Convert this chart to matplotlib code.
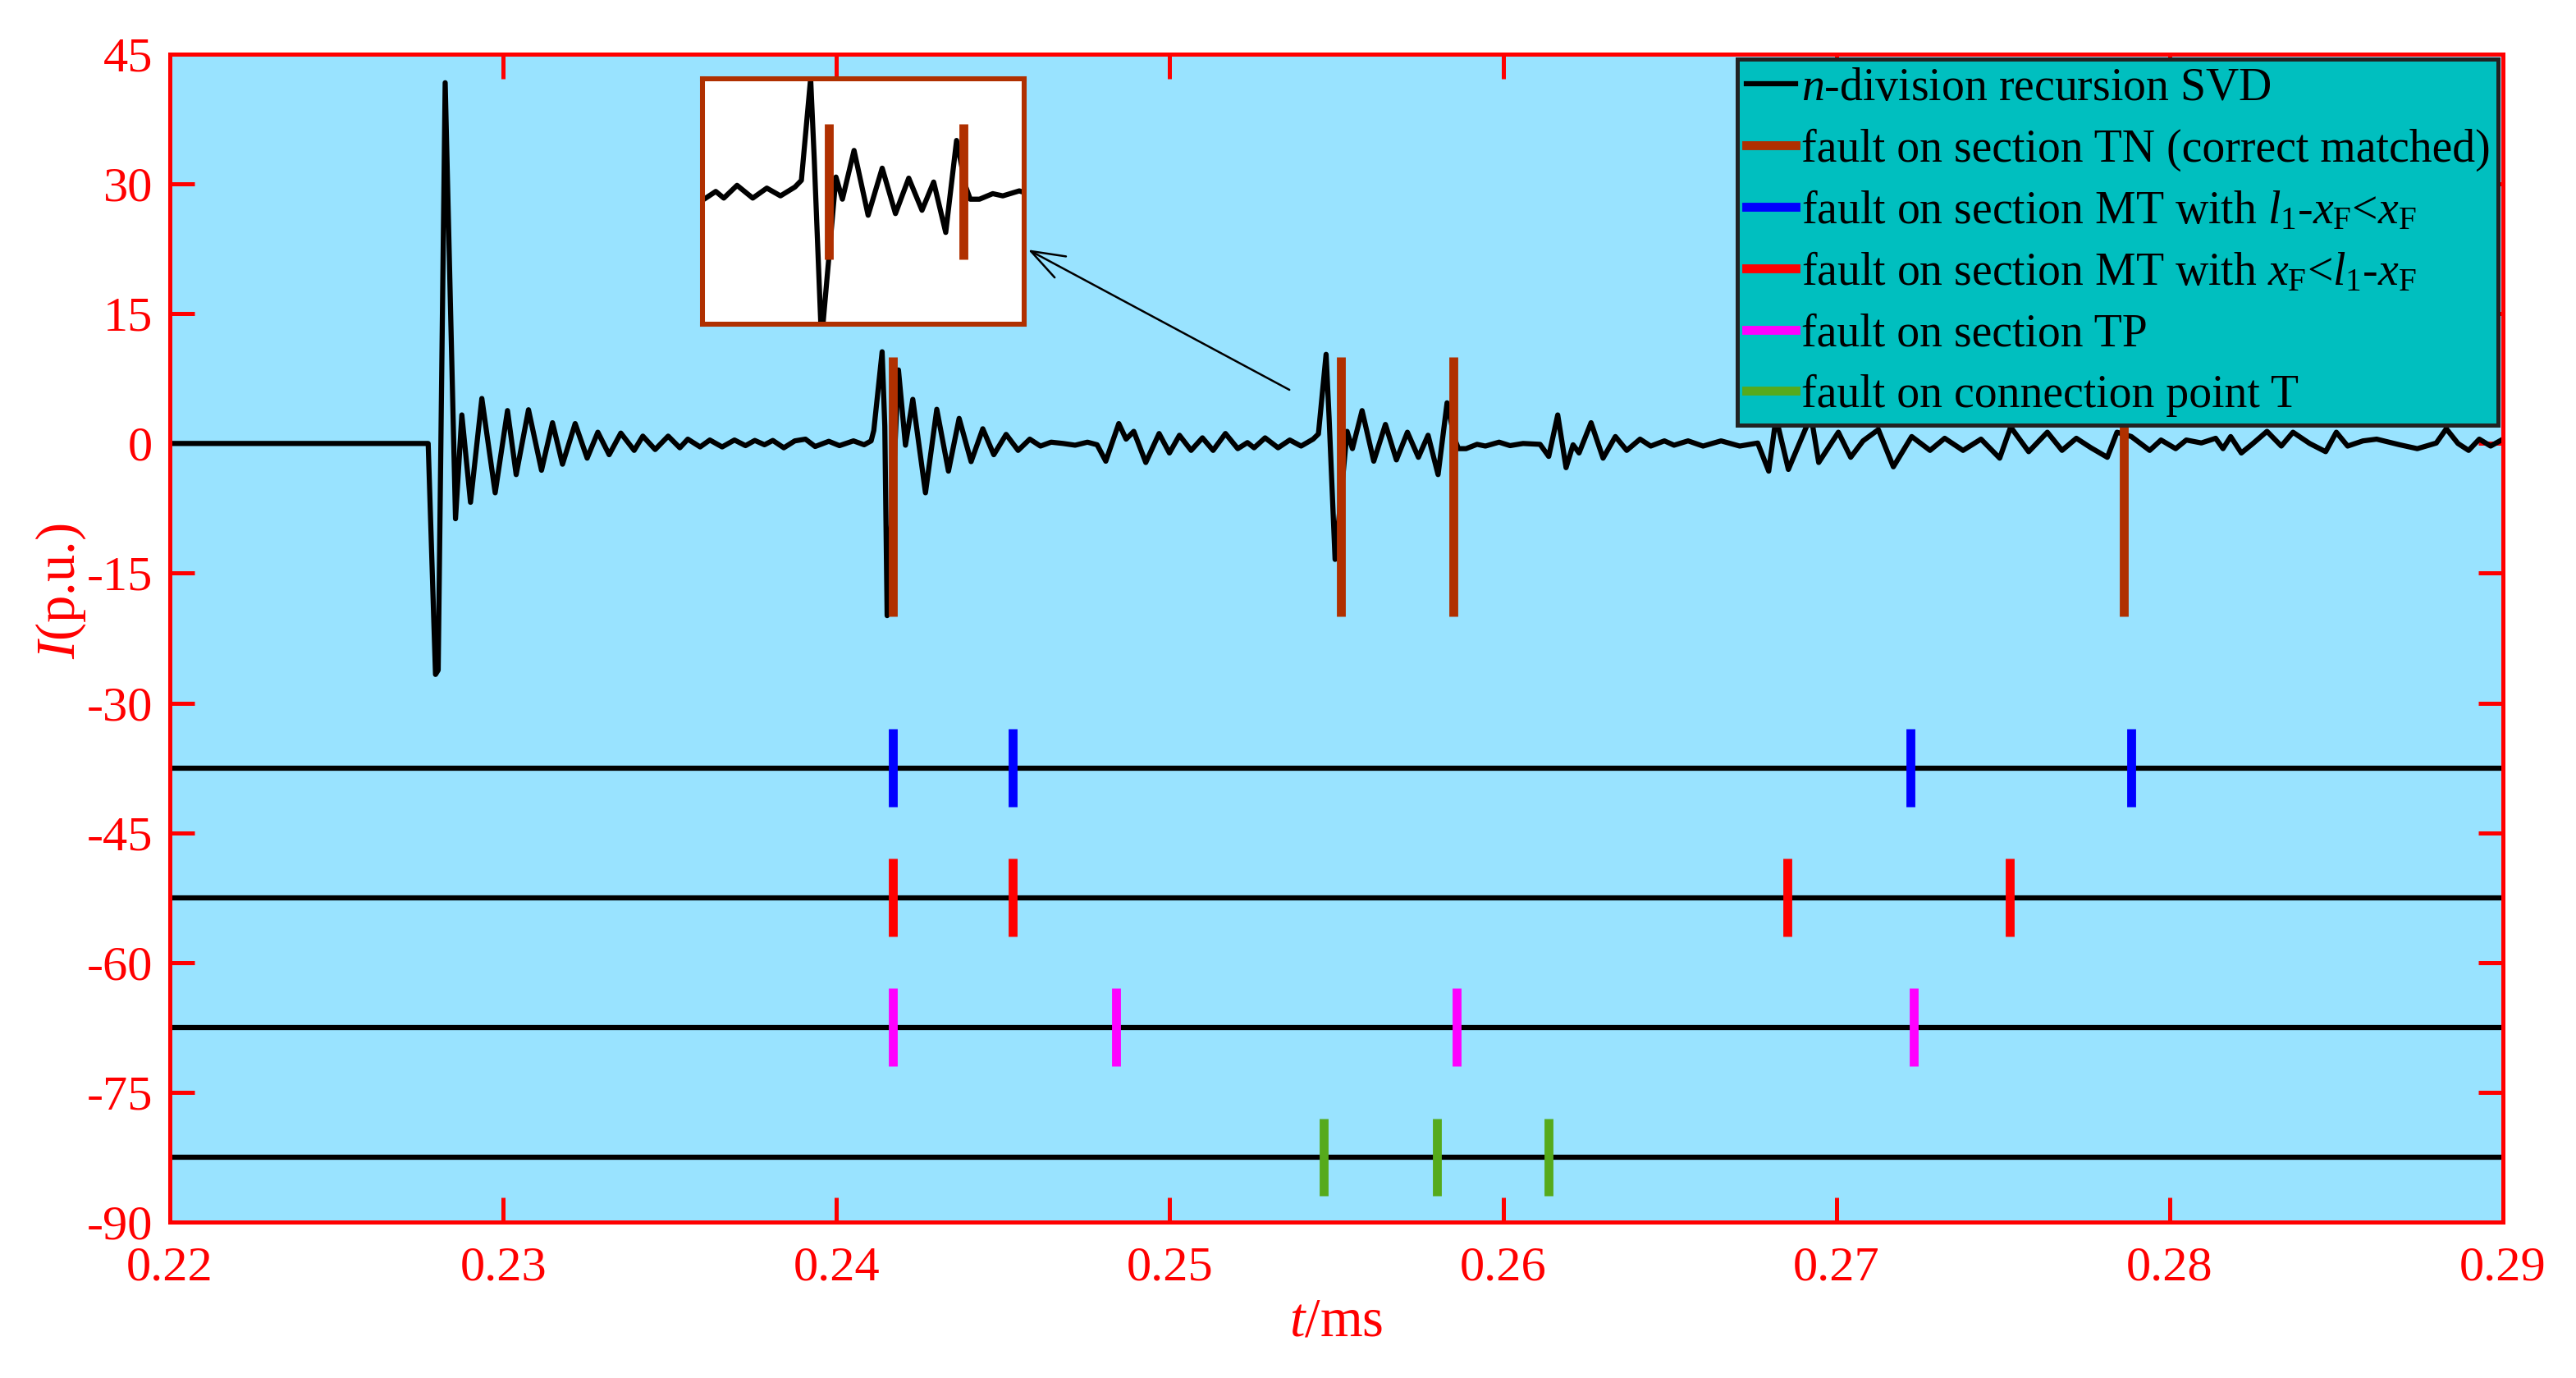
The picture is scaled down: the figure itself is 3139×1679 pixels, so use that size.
import matplotlib
matplotlib.use('Agg')
import matplotlib.pyplot as plt
from matplotlib.lines import Line2D

plt.rcParams['font.family'] = ['Liberation Serif', 'DejaVu Serif']
plt.rcParams['mathtext.fontset'] = 'custom'
plt.rcParams['mathtext.rm'] = 'Liberation Serif'
plt.rcParams['mathtext.it'] = 'Liberation Serif:italic'
plt.rcParams['mathtext.bf'] = 'Liberation Serif:bold'
plt.rcParams['axes.unicode_minus'] = False

# ---------------- data ----------------
t_ms = [0.22000, 0.22775, 0.22797, 0.22805, 0.22826, 0.22857, 0.22876, 0.22902, 0.22936, 0.22976,
        0.23013, 0.23039, 0.23076, 0.23115, 0.23148, 0.23178, 0.23216, 0.23252, 0.23284, 0.23318,
        0.23353, 0.23393, 0.23419, 0.23456, 0.23495, 0.23530, 0.23554, 0.23591, 0.23620, 0.23657,
        0.23694, 0.23727, 0.23755, 0.23784, 0.23809, 0.23842, 0.23875, 0.23907, 0.23936,
        0.23977, 0.24009, 0.24051, 0.24083, 0.24104, 0.24112, 0.24137, 0.24145, 0.24152, 0.24186,
        0.24207, 0.24229, 0.24267, 0.24301, 0.24336, 0.24368, 0.24404, 0.24439, 0.24472, 0.24509,
        0.24545, 0.24580, 0.24612, 0.24644, 0.24680, 0.24716, 0.24753, 0.24782, 0.24808, 0.24847,
        0.24869, 0.24892, 0.24928, 0.24968, 0.24999, 0.25029, 0.25064, 0.25098, 0.25130, 0.25167,
        0.25204, 0.25233, 0.25253, 0.25286, 0.25325, 0.25360, 0.25394, 0.25430, 0.25446, 0.25469,
        0.25478, 0.25496, 0.25532, 0.25548, 0.25577, 0.25612, 0.25647, 0.25680, 0.25713, 0.25746,
        0.25775, 0.25805, 0.25832, 0.25855, 0.25866, 0.25889, 0.25922, 0.25947, 0.25988, 0.26021,
        0.26060, 0.26111, 0.26137, 0.26164, 0.26189, 0.26210, 0.26228, 0.26264, 0.26300, 0.26337,
        0.26371, 0.26411, 0.26443, 0.26484, 0.26513, 0.26555, 0.26600, 0.26654, 0.26710, 0.26764,
        0.26797, 0.26819, 0.26856, 0.26924, 0.26947, 0.27006, 0.27043, 0.27080, 0.27126, 0.27171,
        0.27226, 0.27281, 0.27325, 0.27380, 0.27434, 0.27490, 0.27523, 0.27577, 0.27633, 0.27677,
        0.27720, 0.27764, 0.27813, 0.27842, 0.27885, 0.27940, 0.27974, 0.28018, 0.28050, 0.28095,
        0.28138, 0.28160, 0.28183, 0.28215, 0.28250, 0.28292, 0.28335, 0.28370, 0.28420, 0.28468,
        0.28500, 0.28534, 0.28580, 0.28621, 0.28690, 0.28743, 0.28800, 0.28830, 0.28865, 0.28897,
        0.28929, 0.28963, 0.29000]
I_pu = [0.0, 0.0, -26.7, -26.2, 41.7, -8.7, 3.3, -6.8, 5.2, -5.7,
        3.8, -3.6, 3.9, -3.1, 2.4, -2.4, 2.3, -1.7, 1.3, -1.3,
        1.2, -0.8, 0.85, -0.7, 0.85, -0.5, 0.5, -0.4, 0.4, -0.4,
        0.4, -0.25, 0.35, -0.15, 0.35, -0.5, 0.3, 0.5, -0.35,
        0.25, -0.25, 0.3, -0.15, 0.3, 1.5, 10.6, 2.0, -19.9, 8.5,
        -0.2, 5.1, -5.7, 3.95, -3.2, 2.9, -2.1, 1.7, -1.3, 1.05,
        -0.8, 0.5, -0.3, 0.15, 0.0, -0.2, 0.15, -0.15, -2.05, 2.3,
        0.5, 1.4, -2.2, 1.15, -1.1, 0.95, -0.8, 0.65, -0.8, 1.15,
        -0.6, 0.1, -0.5, 0.65, -0.5, 0.4, -0.3, 0.5, 1.1, 10.3,
        3.0, -13.4, 1.4, -0.6, 3.8, -2.05, 2.2, -1.9, 1.3, -1.6,
        0.95, -3.6, 4.7, 0.5, -0.6, -0.6, -0.1, -0.3, 0.15, -0.25,
        0.0, -0.1, -1.5, 3.3, -2.8, -0.15, -1.1, 2.4, -1.7, 0.8,
        -0.8, 0.5, -0.3, 0.3, -0.2, 0.3, -0.3, 0.3, -0.3, 0.05,
        -3.2, 3.0, -3.0, 3.2, -2.2, 1.3, -1.6, 0.3, 1.6, -2.7,
        0.8, -0.8, 0.6, -0.8, 0.5, -1.7, 1.9, -0.95, 1.3, -0.8,
        0.6, -0.5, -1.6, 1.3, 0.8, -0.8, 0.4, -0.6, 0.4, 0.06,
        0.6, -0.6, 0.8, -1.1, 0.0, 1.4, -0.3, 1.3, 0.0, -0.95,
        1.3, -0.3, 0.3, 0.5, -0.15, -0.6, 0.05, 1.7, 0.0, -0.8,
        0.5, -0.3, 0.5]

tn_times = [0.24168, 0.25514, 0.25850, 0.27863]          # fault on section TN
mt1_times = [0.24168, 0.24528, 0.27223, 0.27884]         # MT with l1-xF<xF
mt2_times = [0.24168, 0.24528, 0.26853, 0.27519]         # MT with xF<l1-xF
tp_times = [0.24168, 0.24838, 0.25860, 0.27233]          # fault on section TP
t_point_times = [0.25461, 0.25801, 0.26137]              # connection point T

tn_range = (-20.0, 10.0)
row_levels = [-37.5, -52.5, -67.5, -82.5]
row_half = 4.5

inset_xlim = (0.2520, 0.2600)
inset_ylim = (-11.9, 10.3)
inset_bar_range = (-6.0, 6.2)
inset_box = (0.23598, 13.76, 0.00965, 28.44)  # x, y, w, h in data units
arrow_tail = (0.25359, 6.2)
arrow_head = (0.24575, 22.4)

labels = ['$n$-division recursion SVD',
          'fault on section TN (correct matched)',
          'fault on section MT with $l_1$-$x_\\mathrm{F}$<$x_\\mathrm{F}$',
          'fault on section MT with $x_\\mathrm{F}$<$l_1$-$x_\\mathrm{F}$',
          'fault on section TP',
          'fault on connection point T']

xticks = [0.22, 0.23, 0.24, 0.25, 0.26, 0.27, 0.28, 0.29]
yticks = [45, 30, 15, 0, -15, -30, -45, -60, -75, -90]

# ---------------- style ----------------
c_bg = '#99E3FF'
c_brown = '#B03000'
c_blue = '#0000FF'
c_red = '#FF0000'
c_mag = '#FF00FF'
c_green = '#56AA1C'
c_leg = '#00BFBF'
lw_trace = 1.5
lw_bar = 2.6

fig = plt.figure(figsize=(3139 / 300, 1679 / 300), dpi=300)
ax = fig.add_axes([207 / 3139, 190 / 1679, 2843 / 3139, 1423 / 1679])
ax.set_facecolor(c_bg)

ax.plot(t_ms, I_pu, color='black', lw=lw_trace, zorder=3)
ax.vlines(tn_times, tn_range[0], tn_range[1], color=c_brown, lw=lw_bar, zorder=4)

ax.hlines(row_levels, xticks[0], xticks[-1], color='black', lw=lw_trace, zorder=3)
for times, lev, col in zip([mt1_times, mt2_times, tp_times, t_point_times],
                           row_levels, [c_blue, c_red, c_mag, c_green]):
    ax.vlines(times, lev - row_half, lev + row_half, color=col, lw=lw_bar, zorder=4)

ax.set_xlim(xticks[0], xticks[-1])
ax.set_ylim(yticks[-1], yticks[0])
ax.set_xticks(xticks)
ax.set_xticklabels([f'{v:.2f}' for v in xticks])
ax.set_yticks(yticks)
ax.set_yticklabels([str(v) for v in yticks])
ax.tick_params(direction='in', length=7.2, width=1.2, colors='red', labelcolor='red',
               labelsize=14.5, top=True, right=True)
ax.tick_params(axis='x', pad=7)
ax.tick_params(axis='y', pad=5)
for s in ax.spines.values():
    s.set_color('red')
    s.set_linewidth(1.2)
    s.set_zorder(10)

ax.set_xlabel('$t$/ms', color='red', fontsize=16, labelpad=2)
ax.set_ylabel('$I$(p.u.)', color='red', fontsize=16)
ax.yaxis.set_label_coords(-0.035, 0.54)

# inset
axins = ax.inset_axes(list(inset_box), transform=ax.transData)
axins.set_facecolor('white')
axins.plot(t_ms, I_pu, color='black', lw=lw_trace)
axins.vlines([t for t in tn_times if inset_xlim[0] <= t <= inset_xlim[1]],
             inset_bar_range[0], inset_bar_range[1], color=c_brown, lw=lw_bar)
axins.set_xlim(*inset_xlim)
axins.set_ylim(*inset_ylim)
axins.set_xticks([])
axins.set_yticks([])
for s in axins.spines.values():
    s.set_color(c_brown)
    s.set_linewidth(1.45)

ax.annotate('', xy=arrow_head, xytext=arrow_tail,
            arrowprops=dict(arrowstyle='->,head_length=0.7,head_width=0.25',
                            color='black', lw=0.6, shrinkA=0, shrinkB=0, mutation_scale=14),
            zorder=5)

handles = [Line2D([], [], color='black', lw=lw_trace),
           Line2D([], [], color=c_brown, lw=lw_bar),
           Line2D([], [], color=c_blue, lw=lw_bar),
           Line2D([], [], color=c_red, lw=lw_bar),
           Line2D([], [], color=c_mag, lw=lw_bar),
           Line2D([], [], color=c_green, lw=lw_bar)]
leg = ax.legend(handles, labels, loc='upper right', bbox_to_anchor=(0.998, 0.9958),
                fontsize=13.4, frameon=True, fancybox=False, facecolor=c_leg,
                edgecolor='#222222', framealpha=1, borderaxespad=0, borderpad=0.18,
                handlelength=1.09, handletextpad=0.11, labelspacing=0.4)
leg.get_frame().set_linewidth(1.2)
leg.set_zorder(8)

fig.savefig('out.png', dpi=300)
